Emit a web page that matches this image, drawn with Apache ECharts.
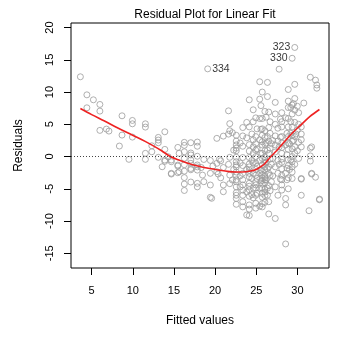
<!DOCTYPE html>
<html>
<head>
<meta charset="utf-8">
<script src="https://cdn.jsdelivr.net/npm/echarts@6/dist/echarts.min.js"></script>
<style>
html,body{margin:0;padding:0;background:#fff;}
#chart{width:347px;height:340px;}
</style>
</head>
<body>
<div id="chart"></div>
<script>
// Fitted values (columns of equal fitted value) and residuals at each
const colFitted = [3.63,4.42,5.21,6.00,6.79,7.10,8.37,8.69,9.53,9.95,11.53,12.31,13.10,13.57,13.89,14.29,
  14.68,15.47,15.63,16.26,17.05,17.84,18.31,18.47,18.63,19.42,19.58,19.73,20.21,20.37,20.52,20.68,21.00,21.63,21.78,22.10,22.26,
  22.57,23.05,23.36,23.84,24.15,24.47,24.63,24.94,25.10,25.42,25.57,25.73,26.05,26.20,26.36,26.52,26.68,26.84,27.00,27.31,27.63,27.78,27.94,28.10,
  28.57,28.73,28.89,29.04,29.20,29.36,29.52,29.68,29.83,29.99,30.15,30.47,30.78,31.41,31.57,31.73,32.20,32.36,32.68];
const colResiduals = [
  [12.37],[9.57,7.56],[8.8],[8.08,7.05,4.06],[4.26],[3.95],[1.63],[6.32,3.33],[-0.43],[5.6,5.08,3.02],
  [5.08,4.57,0.5,-0.43],[1.67,0.74],[2.97,2.56,2.14,-0.12],[-1.58],[3.84,1.11,-0.54,-0.74],[-0.03],
  [-0.54,-0.8,-2.71,-2.6],[1.42,-1.32,-1.47,-2.51],[0.5,-2.35],
  [2.2,1.74,0.74,-0.26,-1.26,-2.26,-3.26,-4.26,-5.26],
  [2.15,0.55,0.25,-0.55,-1.05,-1.85,-2.05,-3.95],
  [2.25,1.6,0.05,-1.3,-1.6,-2.1,-4.15,-4.7],
  [-1.7],[-2.87],[-3.9,-0.45],[-2.6,-4.41,-6.32,-0.6],[-6.47],[-1.47],[2.82,-1.05,-2.35],[-2.71],[-0.43],[-0.65,-3.3],
  [3.17,-4.41,-5.45,-1.7],[3.48,7.09,-1.2],[5.1,4.0,-2.87,-4.2,-0.12],[3.7,-3.64],[1.0,-2.0],
  [3.3,2.4,1.8,1.3,0.9,-0.1,-0.8,-1.3,-1.6,-2.4,-2.9,-3.6,-3.9,-4.7,-5.6,-6.0,-6.5,-7.4],
  [2.1,-1.0,-3.0,-4.7],
  [4.5,3.2,1.6,-0.15,-1.4,-2.6,-3.6,-4.4,-5.2,-6.0,-7.0,-7.8],
  [5.3,2.9,-2.0,-5.5,-9.06],
  [8.8,4.6,1.85,0.85,-0.15,-1.15,-2.15,-3.15,-4.15,-5.15,-6.15,-7.5,-8.15,-9.15,-2.6,-4.6,-1.6],
  [3.5,-0.6,-3.4,-5.9],
  [7.25,5.4,2.6,1.5,0.5,-1.0,-2.6,-4.9,-6.4],
  [6.0,3.1,2.0,1.0,0.0,-1.0,-2.0,-2.9,-3.9,-4.9,-6.0,-7.25,-8.0,-4.4],
  [4.3,1.2,-1.5,-3.4,-5.7],
  [11.6,8.9,5.9,2.6,-0.6,-2.6,-4.9,-7.7],
  [7.9,4.2,0.5,-2.1,-3.8],
  [10.0,5.9,4.3,3.3,2.3,1.8,0.5,-0.3,-1.3,-2.3,-2.8,-3.3,-3.7,-4.3,-4.9,-5.7,-6.3,-7.3,-7.8],
  [7.0,4.0,2.95,1.9,0.9,-0.05,-1.05,-1.6,-2.05,-3.05,-3.6,-4.05,-5.05,-5.5,-6.05,-7.1,-3.3,-0.6],
  [6.1,2.1,-0.9,-3.6],
  [11.5,9.3,3.1,1.0,-1.9,-4.9,-6.0],
  [6.9,4.5,2.4,0.5,-1.6,-2.6,-4.5,-7.0,-8.9],
  [5.4,3.6,1.3,-0.4,-2.9,-5.3],
  [-1.2,-3.9,2.0],
  [2.5,-0.3,-3.0],
  [8.4,5.0,3.2,1.8,0.7,-1.6,-4.7,-9.6,6.6],
  [4.4,2.4,-0.6,-2.6,-6.0],
  [13.55,1.5,-1.2],
  [5.8,3.0,-3.5],
  [6.8,4.6,3.1,2.1,0.5,-0.4,-0.9,-1.9,-2.9,-3.6,-4.4,1.4,-5.2,5.4],
  [-13.55,-6.5,-7.5,-2.6,1.8,6.0],
  [3.6,-1.8,-3.6,0.3],
  [10.4,8.6,5.9,4.6,3.1,2.1,1.1,-0.5,-1.4,-3.3,-5.0,7.6],
  [2.0,-2.0],
  [7.6,5.4,3.6,-0.5],
  [4.6,2.4,1.2,0.0,-1.6,-3.4,6.6,-2.4,8.0,3.3,-0.8],
  [8.2,2.5],
  [11.2,9.0,7.2,3.1,1.5,0.5,5.3,-1.2],
  [3.5],
  [7.8,4.1,0.9],
  [6.8,-0.3,2.2,5.0],
  [4.6,3.5,1.5,-3.5,-6.0,2.6,-3.4],
  [8.3],[-8.4],[12.3,1.3,0.1,-0.7],[-2.6,1.5,-2.7],[11.85,-3.2],[11.1,10.6],[-6.7,-6.6]
];
// Labelled outliers
const labelIds = ['323','330','334'];
const labelFitted = [29.68, 29.36, 19.10];
const labelResid = [16.92, 15.24, 13.60];
const labelSide = ['left','left','right'];
// Smoother (red line)
const smoothX = [3.63,5,6.5,8,9.5,10.5,11.5,12.5,13.5,14.5,15.5,16.5,17.5,18.5,19.5,20.5,21.5,22.5,23.3,24.3,25,25.5,26,26.7,27.5,28.5,29.5,30.5,31.5,32.68];
const smoothY = [7.45,6.5,5.55,4.55,3.6,3.0,2.35,1.65,0.9,0.05,-0.5,-0.95,-1.35,-1.65,-1.9,-2.1,-2.3,-2.4,-2.4,-2.25,-2.0,-1.6,-1.15,-0.1,0.95,2.4,3.8,5.0,6.2,7.3];
// Axis ticks
const xTicks = [5,10,15,20,25,30];
const yTicks = [-15,-10,-5,0,5,10,15,20];

const FONT = 'Liberation Sans, Arial, sans-serif';
const points = [];
colFitted.forEach((x,i) => colResiduals[i].forEach(r => points.push([x, r])));
const labelled = labelIds.map((id,i) => ({
  value: [labelFitted[i], labelResid[i]],
  label: {show: true, position: labelSide[i], distance: 1, formatter: id, color: '#000', fontSize: 10.5, fontFamily: FONT}
}));

const chart = echarts.init(document.getElementById('chart'), null, {renderer: 'canvas'});
chart.setOption({
  animation: false,
  backgroundColor: '#fff',
  title: {
    text: 'Residual Plot for Linear Fit',
    left: 200, top: 4, textAlign: 'center',
    textStyle: {fontFamily: FONT, fontSize: 12, fontWeight: 'normal', color: '#000'}
  },
  grid: {left: 71, right: 18, top: 23, bottom: 72, show: true, borderColor: '#000', borderWidth: 1, backgroundColor: 'transparent'},
  xAxis: {
    type: 'value', min: 2.49, max: 33.84,
    name: 'Fitted values', nameLocation: 'middle', nameGap: 47,
    nameTextStyle: {fontFamily: FONT, fontSize: 12, color: '#000'},
    axisLine: {show: false, onZero: false},
    axisTick: {show: true, length: 7, customValues: xTicks, lineStyle: {color: '#000'}},
    axisLabel: {customValues: xTicks, margin: 17, fontFamily: FONT, fontSize: 11, color: '#000'},
    splitLine: {show: false}
  },
  yAxis: {
    type: 'value', min: -17.28, max: 20.71,
    name: 'Residuals', nameLocation: 'middle', nameGap: 46,
    nameTextStyle: {fontFamily: FONT, fontSize: 12, color: '#000'},
    axisLine: {show: false, onZero: false},
    axisTick: {show: true, length: 7, customValues: yTicks, lineStyle: {color: '#000'}},
    axisLabel: {customValues: yTicks, rotate: 90, margin: 16, fontFamily: FONT, fontSize: 11, color: '#000'},
    splitLine: {show: false}
  },
  series: [
    {
      type: 'scatter', data: points, symbol: 'circle', symbolSize: 6,
      itemStyle: {color: 'rgba(0,0,0,0)', borderColor: '#9c9c9c', borderWidth: 1},
      markLine: {
        silent: true, symbol: 'none', label: {show: false},
        lineStyle: {type: [1, 2], color: '#444', width: 1},
        data: [{yAxis: 0}]
      },
      z: 2
    },
    {
      type: 'scatter', data: labelled, symbol: 'circle', symbolSize: 6,
      itemStyle: {color: 'rgba(0,0,0,0)', borderColor: '#9c9c9c', borderWidth: 1}, z: 2
    },
    {
      type: 'line', data: smoothX.map((x,i) => [x, smoothY[i]]), showSymbol: false, symbol: 'none',
      smooth: 0.3, lineStyle: {color: '#ee2222', width: 1.6}, z: 3
    }
  ]
});
</script>
</body>
</html>
